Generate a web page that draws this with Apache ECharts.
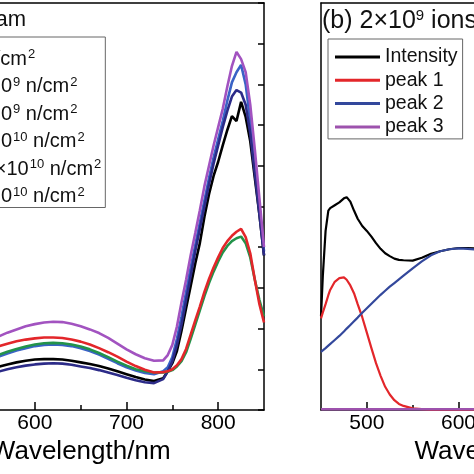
<!DOCTYPE html>
<html>
<head>
<meta charset="utf-8">
<script src="https://cdn.jsdelivr.net/npm/echarts@6/dist/echarts.min.js"></script>
<style>
html,body{margin:0;padding:0;background:#fff;}
#c{width:474px;height:474px;}
</style>
</head>
<body>
<div id="c"></div>
<script>
// ---------- Panel (a) data ----------
const wlA = [550,560,570,580,590,600,610,620,630,640,650,660,670,680,690,700,710,720,730,740,745,750,755,760,765,770,775,780,785,790,795,800,805,810,815,820,825,830,835,840,845,850];
const aBlack  = [1.01,1.06,1.12,1.17,1.21,1.24,1.25,1.25,1.24,1.21,1.17,1.13,1.08,1.02,0.95,0.88,0.81,0.75,0.71,0.78,0.95,1.15,1.45,1.95,2.50,3.05,3.60,4.10,4.75,5.30,5.75,6.10,6.50,6.88,7.22,7.10,7.57,7.20,6.60,5.70,4.80,3.80];
const aRed    = [1.49,1.56,1.63,1.69,1.73,1.76,1.78,1.78,1.77,1.73,1.68,1.61,1.52,1.42,1.31,1.19,1.08,0.99,0.92,0.93,0.95,1.00,1.10,1.25,1.50,1.85,2.20,2.54,2.90,3.22,3.50,3.75,3.98,4.15,4.28,4.38,4.45,4.25,3.85,3.20,2.60,2.15];
const aBlue   = [1.25,1.31,1.39,1.46,1.52,1.57,1.60,1.61,1.60,1.57,1.52,1.45,1.36,1.26,1.15,1.05,0.97,0.91,0.88,0.95,1.05,1.30,1.75,2.30,2.90,3.50,4.05,4.60,5.15,5.70,6.20,6.65,7.10,7.60,8.05,8.30,8.48,8.00,7.10,6.10,5.00,3.90];
const aNavy   = [0.89,0.94,1.00,1.05,1.09,1.12,1.14,1.15,1.14,1.11,1.07,1.03,0.98,0.92,0.86,0.79,0.73,0.68,0.66,0.76,0.95,1.20,1.60,2.10,2.70,3.30,3.90,4.45,5.00,5.55,6.05,6.50,6.95,7.35,7.70,7.86,7.80,7.50,6.80,5.80,4.80,3.80];
const aGreen  = [1.28,1.35,1.43,1.50,1.56,1.61,1.64,1.65,1.64,1.61,1.56,1.49,1.40,1.30,1.19,1.09,1.00,0.95,0.92,0.92,0.94,0.98,1.07,1.20,1.42,1.75,2.10,2.45,2.80,3.12,3.40,3.65,3.87,4.03,4.15,4.22,4.26,4.10,3.75,3.20,2.70,2.30];
const aPurple = [1.72,1.80,1.90,1.98,2.06,2.11,2.15,2.17,2.16,2.12,2.06,1.98,1.89,1.77,1.63,1.49,1.37,1.27,1.21,1.22,1.35,1.60,2.05,2.65,3.20,3.80,4.35,4.91,5.50,6.00,6.50,6.95,7.40,7.95,8.45,8.80,8.62,8.30,7.50,6.40,5.20,4.00];
const aNames = ['0 n/cm{s|2}','1×10{s|9} n/cm{s|2}','5×10{s|9} n/cm{s|2}','1×10{s|10} n/cm{s|2}','2.5×10{s|10} n/cm{s|2}','5×10{s|10} n/cm{s|2}'];

// ---------- Panel (b) data ----------
const wlB = [450,452,455,458,460,465,470,475,478,482,486,490,495,500,505,510,515,520,525,530,535,540,550,560,570,580,590,600,610,620,630];
const bIntensity = [2.30,3.30,4.40,4.90,4.96,5.03,5.10,5.20,5.23,5.12,4.90,4.70,4.52,4.40,4.26,4.10,3.96,3.85,3.78,3.72,3.69,3.68,3.67,3.74,3.84,3.90,3.95,3.98,3.98,3.97,3.95];
const bPeak1 = [2.25,2.40,2.60,2.82,2.95,3.15,3.24,3.26,3.20,3.06,2.87,2.60,2.28,1.90,1.52,1.15,0.84,0.57,0.38,0.24,0.15,0.10,0.04,0.02,0.01,0.01,0.01,0.01,0.01,0.01,0.01];
const bPeak2 = [1.43,1.47,1.52,1.58,1.62,1.72,1.82,1.93,2.00,2.09,2.18,2.27,2.39,2.50,2.61,2.72,2.83,2.93,3.03,3.12,3.21,3.30,3.48,3.65,3.80,3.90,3.95,3.97,3.96,3.94,3.90];
const bPeak3 = [0.02,0.02,0.02,0.02,0.02,0.02,0.02,0.02,0.02,0.02,0.02,0.02,0.02,0.02,0.02,0.02,0.02,0.02,0.02,0.02,0.02,0.02,0.02,0.02,0.02,0.02,0.02,0.02,0.02,0.02,0.02];
const bNames = ['Intensity','peak 1','peak 2','peak 3'];

const xMajor = [500,600,700,800];
const xMinor = [550,650,750];

const FF = 'Liberation Sans, Arial, sans-serif';
const pair = (xs, ys) => xs.map((x,i)=>[x, ys[i]]);

function xMain(gi){
  return {type:'value', gridIndex:gi, min:450, max:850, position:'bottom',
    axisLine:{show:true, lineStyle:{color:'#000', width:1.5}},
    axisTick:{show:true, inside:true, length:8, customValues:xMajor, lineStyle:{color:'#000', width:1.5}},
    axisLabel:{show:true, customValues:xMajor, color:'#000', fontSize:21, fontFamily:FF, margin:3},
    splitLine:{show:false},
    name:'Wavelength/nm', nameLocation:'middle', nameGap:25,
    nameTextStyle:{color:'#000', fontSize:26, fontFamily:FF}};
}
function xMinorAxis(gi){
  return {type:'value', gridIndex:gi, min:450, max:850, position:'bottom',
    axisLine:{show:false},
    axisTick:{show:true, inside:true, length:5, customValues:xMinor, lineStyle:{color:'#000', width:1.5}},
    axisLabel:{show:false}, splitLine:{show:false}};
}
function xTop(gi){
  return {type:'value', gridIndex:gi, min:450, max:850, position:'top',
    axisLine:{show:true, lineStyle:{color:'#000', width:1.5}},
    axisTick:{show:false}, axisLabel:{show:false}, splitLine:{show:false}};
}
function yAx(gi, pos, ticks){
  return {type:'value', gridIndex:gi, min:0, max:10, interval:1, position:pos,
    axisLine:{show:true, lineStyle:{color:'#000', width:1.5}},
    axisTick:{show:ticks, inside:true, length:6, lineStyle:{color:'#000', width:1.5}},
    axisLabel:{show:false}, splitLine:{show:false}};
}
function line(name, xs, ys, color, xi, yi, w){
  return {type:'line', name, data:pair(xs, ys), xAxisIndex:xi, yAxisIndex:yi,
    showSymbol:false, symbol:'none', color,
    lineStyle:{color, width:w}, silent:true, animation:false};
}

const chart = echarts.init(document.getElementById('c'), null, {renderer:'canvas'});
chart.setOption({
  animation:false,
  backgroundColor:'#fff',
  grid:[
    {left:-102.6, right:210, top:3, bottom:64, outerBoundsMode:'none', containLabel:false},
    {left:321, right:-213.7, top:3, bottom:64, outerBoundsMode:'none', containLabel:false}
  ],
  xAxis:[xMain(0), xMinorAxis(0), xTop(0), xMain(1), xMinorAxis(1), xTop(1)],
  yAxis:[yAx(0,'left',false), yAx(0,'right',true), yAx(1,'left',false), yAx(1,'right',false)],
  legend:[
    {data:aNames, orient:'vertical', left:-83, top:37, padding:[11,4,0,5],
     icon:'rect', itemWidth:40, itemHeight:3, itemGap:5.5,
     borderColor:'#666', borderWidth:1,
     textStyle:{color:'#111', fontSize:20, lineHeight:22, fontFamily:FF,
       rich:{s:{fontSize:13, lineHeight:22, verticalAlign:'top', padding:[0,0,0,1], fontFamily:FF, color:'#111'}}}},
    {data:bNames, orient:'vertical', left:328, top:39, padding:[8,5,2,7],
     icon:'rect', itemWidth:45, itemHeight:3, itemGap:3.3,
     borderColor:'#666', borderWidth:1,
     textStyle:{color:'#111', fontSize:19.5, lineHeight:20, fontFamily:FF}}
  ],
  graphic:[
    {type:'text', x:26, y:20, style:{text:'(a) Neutron beam', align:'right', verticalAlign:'middle',
      font:'22px Liberation Sans, Arial, sans-serif', fill:'#111'}},
    {type:'text', x:322, y:21, style:{text:'(b) 2×10{s|9} ions/cm{s|2}', align:'left', verticalAlign:'middle',
      font:'25px Liberation Sans, Arial, sans-serif', fill:'#111',
      rich:{s:{font:'15px Liberation Sans, Arial, sans-serif', verticalAlign:'top', fill:'#111'}}}}
  ],
  series:[
    line(aNames[0], wlA, aBlack, '#000000', 0, 0, 2.6),
    line(aNames[1], wlA, aBlue, '#3a63c6', 0, 0, 2.6),
    line(aNames[2], wlA, aNavy, '#2c2b88', 0, 0, 2.6),
    line(aNames[3], wlA, aGreen, '#23934a', 0, 0, 2.6),
    line(aNames[4], wlA, aRed, '#e3262a', 0, 0, 2.6),
    line(aNames[5], wlA, aPurple, '#a253c0', 0, 0, 2.6),
    line(bNames[0], wlB, bIntensity, '#000000', 3, 2, 2.2),
    line(bNames[1], wlB, bPeak1, '#e3262a', 3, 2, 2.2),
    line(bNames[2], wlB, bPeak2, '#33489c', 3, 2, 2.2),
    line(bNames[3], wlB, bPeak3, '#9d52ad', 3, 2, 2.6)
  ]
});
</script>
</body>
</html>
